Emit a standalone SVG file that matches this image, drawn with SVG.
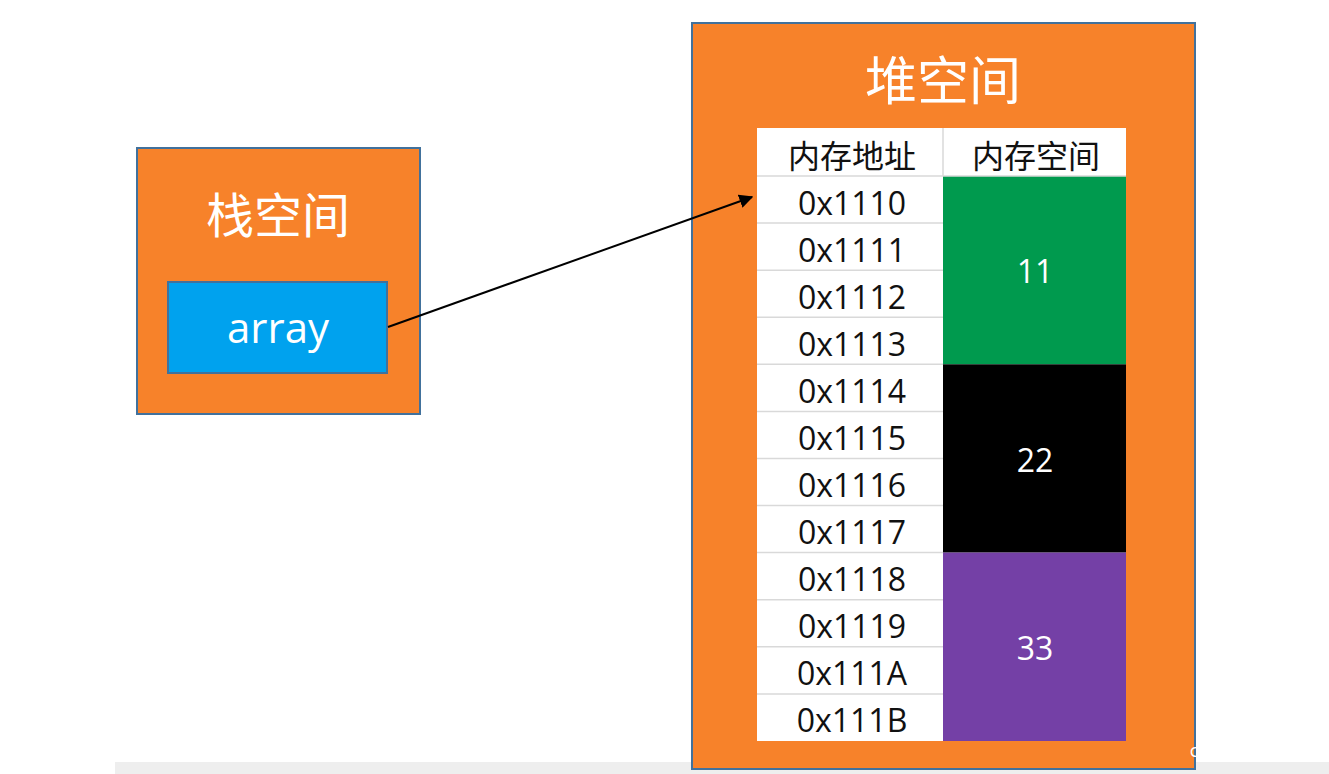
<svg xmlns="http://www.w3.org/2000/svg" width="1329" height="774" viewBox="0 0 1329 774">
<defs>
<style>
.box{fill:#F7822A;stroke:#41719C;stroke-width:2}
.t{font-family:"Noto Sans CJK SC",sans-serif;fill:#fff;text-anchor:middle}
.a{font-family:"Open Sans","DejaVu Sans",sans-serif;font-size:32px;fill:#111;text-anchor:middle}
.h{font-family:"Noto Sans CJK SC",sans-serif;font-size:32px;fill:#111;text-anchor:middle}
.v{font-family:"Open Sans","DejaVu Sans",sans-serif;font-size:32px;fill:#fff;text-anchor:middle}
.g{stroke:#d9d9d9;stroke-width:1.5}
</style>
<marker id="ar" viewBox="0 0 10 10" refX="9" refY="5" markerWidth="7" markerHeight="7" orient="auto"><path d="M0,0L10,5L0,10z" fill="#000"/></marker>
</defs>
<rect width="1329" height="774" fill="#fff"/>
<rect x="115" y="762" width="1214" height="12" fill="#eeeeee"/>
<g id="stack">
<rect class="box" x="137" y="148" width="283" height="266"/>
<text class="t" x="278" y="233" font-size="48">栈空间</text>
</g>
<g id="array">
<rect x="168" y="282" width="219" height="91" fill="#00A2EE" stroke="#41719C" stroke-width="2"/>
<text class="v" x="278" y="343" font-size="42" style="font-size:42px">array</text>
</g>
<g id="heap">
<rect class="box" x="692" y="23" width="503" height="746"/>
<text class="t" x="943" y="100" font-size="52">堆空间</text>
<rect x="757" y="128" width="369" height="613" fill="#fff"/>
<rect x="943" y="176" width="183" height="188.3" fill="#009A4E"/>
<rect x="943" y="364.3" width="183" height="188.3" fill="#000"/>
<rect x="943" y="552.6" width="183" height="188.4" fill="#7440A6"/>
<line class="g" x1="943" y1="128" x2="943" y2="176"/>
<line class="g" x1="757" y1="176" x2="1126" y2="176"/>
<g class="g">
<line x1="757" y1="223.1" x2="943" y2="223.1"/><line x1="757" y1="270.2" x2="943" y2="270.2"/><line x1="757" y1="317.2" x2="943" y2="317.2"/><line x1="757" y1="364.3" x2="943" y2="364.3"/><line x1="757" y1="411.4" x2="943" y2="411.4"/><line x1="757" y1="458.5" x2="943" y2="458.5"/><line x1="757" y1="505.6" x2="943" y2="505.6"/><line x1="757" y1="552.6" x2="943" y2="552.6"/><line x1="757" y1="599.7" x2="943" y2="599.7"/><line x1="757" y1="646.8" x2="943" y2="646.8"/><line x1="757" y1="693.9" x2="943" y2="693.9"/>
</g>
<text class="h" x="852" y="168">内存地址</text>
<text class="h" x="1036" y="168">内存空间</text>
<text class="a" x="852" y="215">0x1110</text>
<text class="a" x="852" y="262">0x1111</text>
<text class="a" x="852" y="309">0x1112</text>
<text class="a" x="852" y="356">0x1113</text>
<text class="a" x="852" y="403">0x1114</text>
<text class="a" x="852" y="450">0x1115</text>
<text class="a" x="852" y="497">0x1116</text>
<text class="a" x="852" y="544">0x1117</text>
<text class="a" x="852" y="591">0x1118</text>
<text class="a" x="852" y="638">0x1119</text>
<text class="a" x="852" y="685">0x111A</text>
<text class="a" x="852" y="732">0x111B</text>
<text class="v" x="1035" y="283">11</text>
<text class="v" x="1035" y="472">22</text>
<text class="v" x="1035" y="660">33</text>
</g>
<g id="connectors">
<line x1="388" y1="327" x2="752" y2="197" stroke="#000" stroke-width="2" marker-end="url(#ar)"/>
</g>
<text x="1316" y="757" font-family="'Liberation Sans','Noto Sans CJK SC',sans-serif" font-size="15" fill="#fff" text-anchor="end">CSDN @沉梦听雨.</text>
</svg>
